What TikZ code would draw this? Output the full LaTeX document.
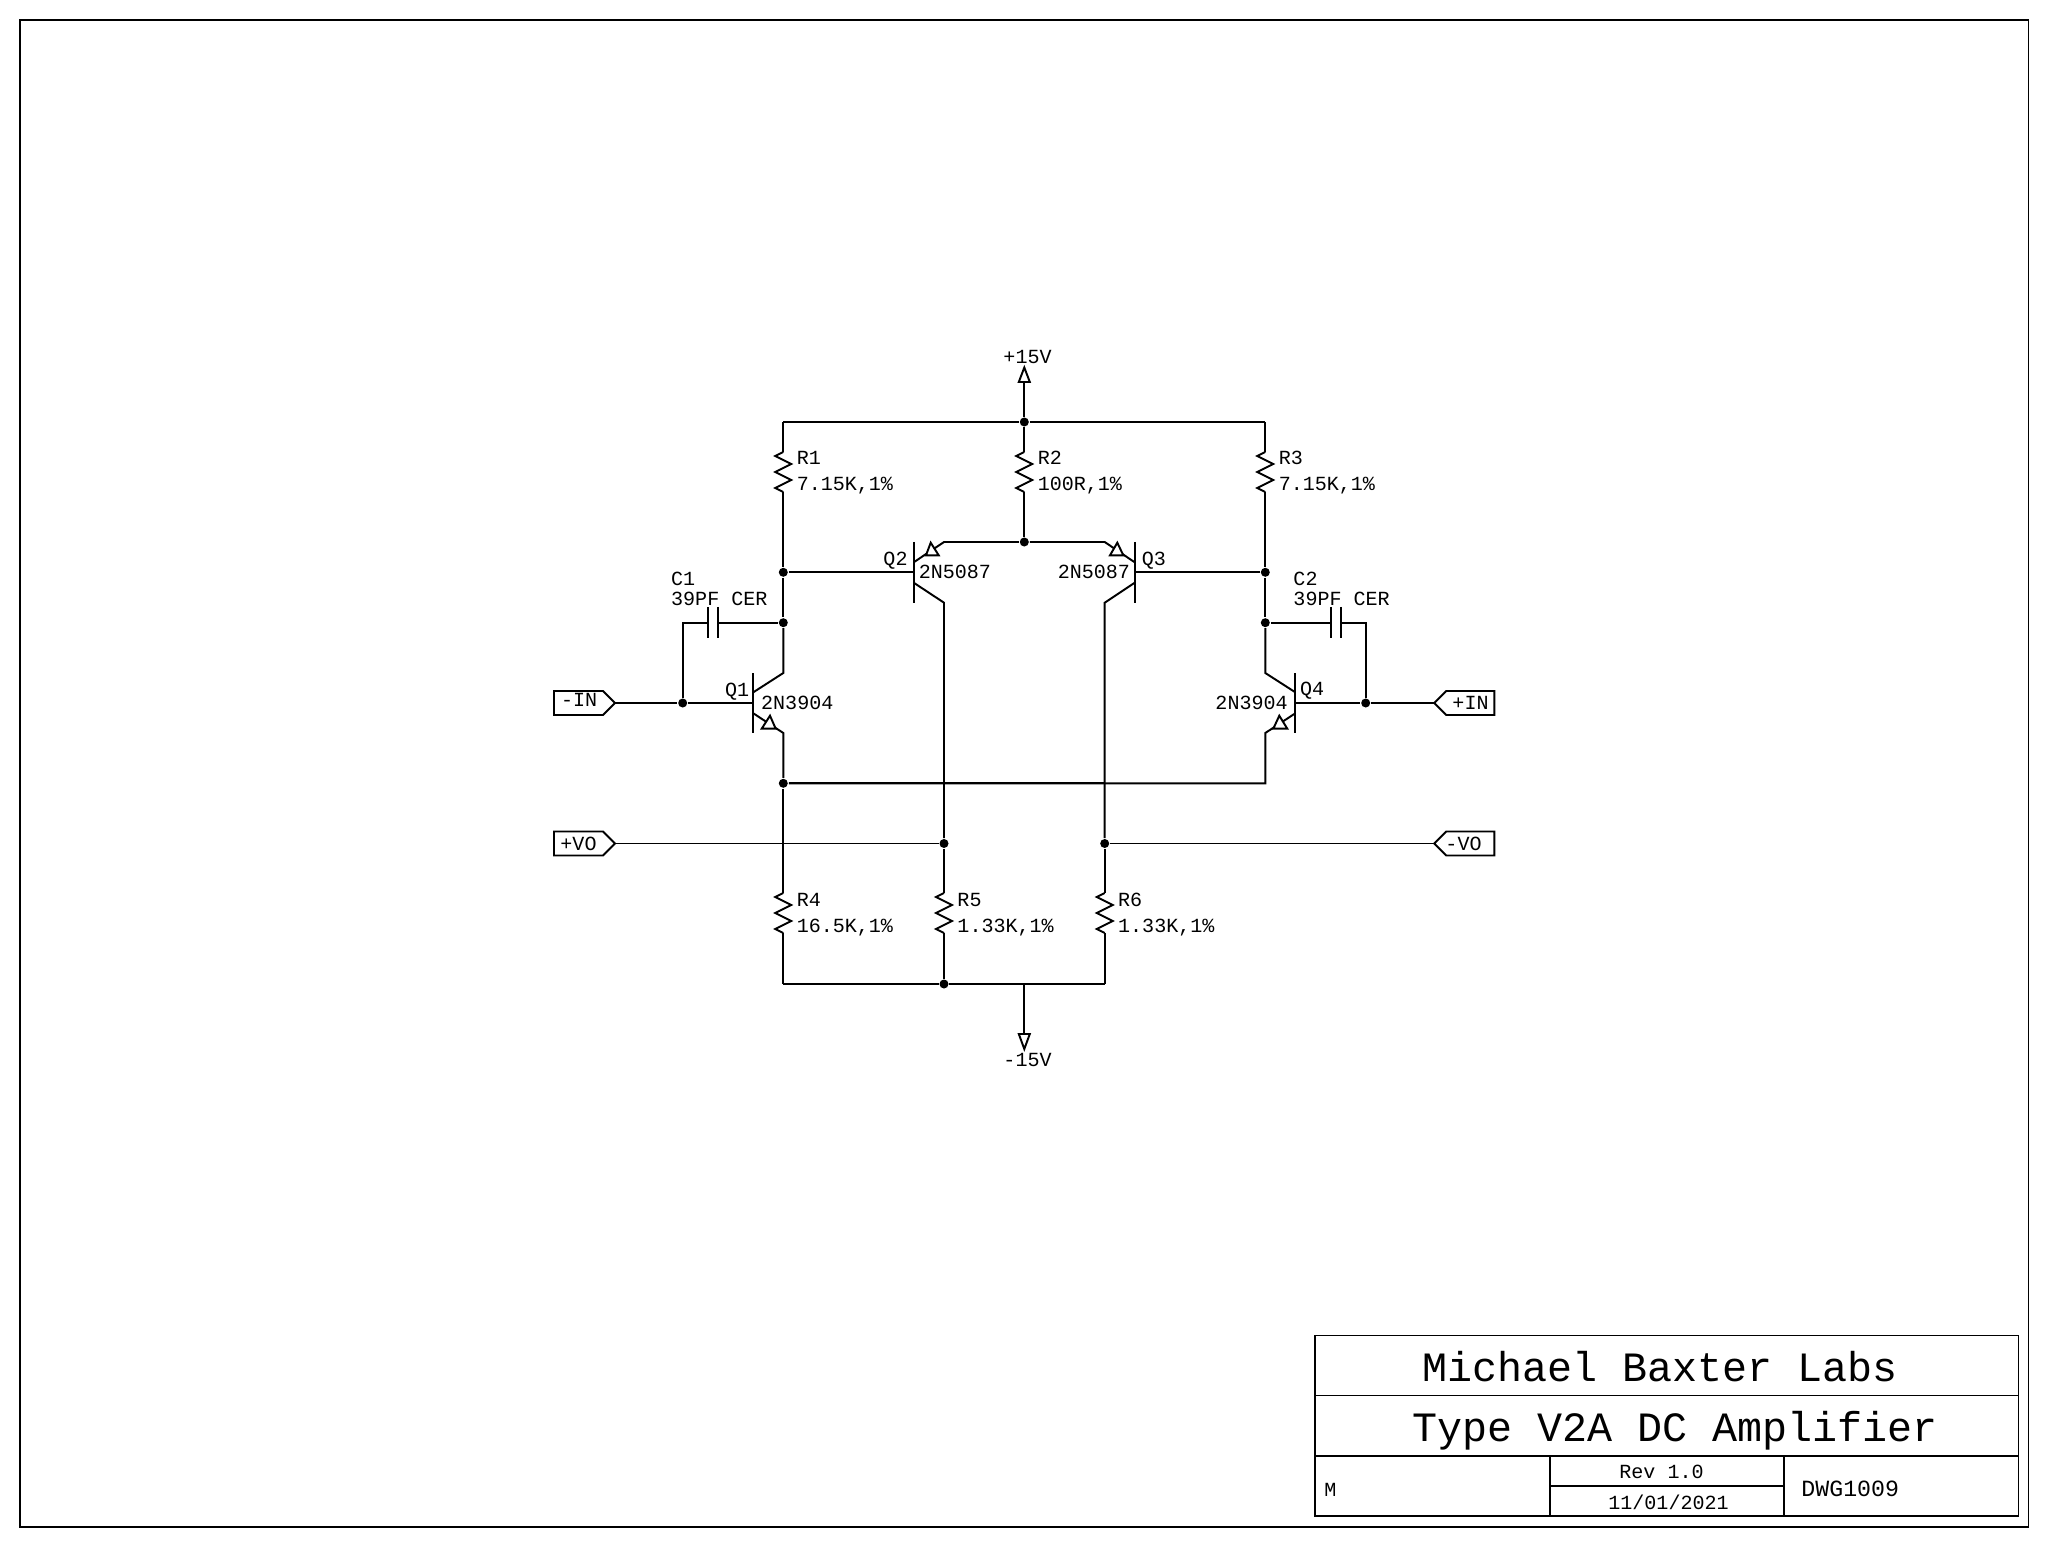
\documentclass[tikz,border=0pt]{standalone}
\usepackage{fontspec}
\setmonofont{Liberation Mono}
\usepackage{tikz}
\usetikzlibrary{positioning,calc}

\tikzset{
  wire/.style={line width=.55pt,line join=miter},
  jdot/.style={circle,fill=black,draw=none,inner sep=0,minimum size=.09cm},
  lbl/.style={inner sep=0,anchor=base west,xshift=-.015cm,font=\ttfamily\fontsize{5.7}{6}\selectfont},
  bigtitle/.style={inner sep=0,anchor=base,font=\ttfamily\fontsize{11.86}{12}\selectfont},
  arrowhd/.style={wire,fill=white}
}

\begin{document}
\begin{tikzpicture}[x=.01cm,y=-.01cm,wire]

      \useasboundingbox (0,0) rectangle (2048,1546);

      % sheet and title block
      \draw (20,20) rectangle (2028.5,1527);
      \draw (1315,1335.5) rectangle (2018.5,1516);
      \coordinate (tl1) at (1315,1395.5);
      \coordinate (tr1) at (2018.5,1395.5);
      \coordinate (tl2) at (1315,1456);
      \coordinate (tr2) at (2018.5,1456);
      \coordinate (tv1) at (1550,1456);
      \coordinate (tb1) at (1550,1516);
      \coordinate (tv2) at (1784,1456);
      \coordinate (tb2) at (1784,1516);
      \coordinate (tm1) at (1550,1486);
      \coordinate (tm2) at (1784,1486);
      \draw (tl1) -- (tr1);
      \draw (tl2) -- (tr2);
      \draw (tv1) -- (tb1);
      \draw (tv2) -- (tb2);
      \draw (tm1) -- (tm2);

      \node[bigtitle] (lab) at (1660,1381.5) {Michael Baxter Labs};
      \node[bigtitle] (ttl) at (1675,1441.5) {Type V2A DC Amplifier};
      \node[lbl] (mrk) at (1325,1496.5) {M};
      \node[lbl,anchor=base] (rev) at (1663,1478) {Rev 1.0};
      \node[lbl,anchor=base] (dat) at (1670,1509) {11/01/2021};
      \node[lbl,font=\ttfamily\fontsize{6.6}{7}\selectfont] (dwg) at (1802,1496.5) {DWG1009};

      % junctions
      \node[jdot] (jtop) at (1024.3,422) {};
      \node[jdot] (jem) at (1024.3,542) {};
      \node[jdot] (jb2) at (783.3,572.3) {};
      \node[jdot] (jb3) at (1265.3,572.3) {};
      \node[jdot] (jc1) at (783.3,622.7) {};
      \node[jdot] (jc2) at (1265.3,622.7) {};
      \node[jdot] (jin1) at (682.7,703) {};
      \node[jdot] (jin2) at (1365.7,703) {};
      \node[jdot] (jlow) at (783.3,783.3) {};
      \node[jdot] (jvo1) at (944,843.5) {};
      \node[jdot] (jvo2) at (1104.7,843.5) {};
      \node[jdot] (jbot) at (944,984) {};

      % resistors
      \foreach \n/\x/\y/\v in {R1/783.3/452/{7.15K,1\%},R2/1024.3/452/{100R,1\%},R3/1265.3/452/{7.15K,1\%},R4/783.3/893/{16.5K,1\%},R5/944/893/{1.33K,1\%},R6/1104.7/893/{1.33K,1\%}}{
        \coordinate (\n t) at (\x,\y);
        \coordinate (\n b) at (\x,\y+40);
        \draw (\n t) -- ++(-8,4) -- ++(16,8) -- ++(-16,8) -- ++(16,8) -- ++(-16,8) -- (\n b);
        \node[lbl] (\n lbl) at (\x+14,\y+13) {\n};
        \node[lbl] (\n val) at (\x+14,\y+39) {\v};
      }

      % corners of the rails
      \coordinate (topl) at (783.3,422);
      \coordinate (topr) at (1265.3,422);
      \coordinate (botl) at (783.3,984);
      \coordinate (botr) at (1104.7,984);
      \coordinate (mlow) at (1265.3,783.3);
      \draw (topl) -- (jtop) -- (topr);
      \draw (topl) -- (R1t);
      \draw (jtop) -- (R2t);
      \draw (topr) -- (R3t);
      \draw (botl) -- (jbot) -- (botr);
      \draw (R4b) -- (botl);
      \draw (R5b) -- (jbot);
      \draw (R6b) -- (botr);

      % supplies
      \coordinate (pwrb) at (1024.3,382);
      \coordinate (negt) at (1024.3,984);
      \coordinate (negb) at (1024.3,1034);
      \draw (jtop) -- (pwrb);
      \draw (negt) -- (negb);
      \draw[arrowhd] (pwrb) -- ++(-5.5,0) -- (1024.3,367.5) -- (1029.8,382) -- cycle;
      \draw[arrowhd] (negb) -- ++(-5.5,0) -- (1024.3,1049) -- (1029.8,1034) -- cycle;
      \node[lbl] (vpos) at (1004,364) {+15V};
      \node[lbl] (vneg) at (1004,1066.5) {-15V};

      % Q1
      \coordinate (q1t) at (753.3,673);
      \coordinate (q1b) at (753.3,733);
      \coordinate (q1m) at (753.3,703);
      \coordinate (q1cs) at (753.3,692.3);
      \coordinate (q1c) at (783.3,673);
      \coordinate (q1es) at (753.3,713.3);
      \coordinate (q1e) at (783.3,733);
      \draw (q1t) -- (q1b);
      \draw (q1cs) -- (q1c) -- (jc1);
      \draw (q1es) -- (q1e) -- (jlow);
      \draw[arrowhd] (761.7,728.7) -- (775.7,728.7) -- (770,715.7) -- cycle;
      \node[lbl] (q1n) at (725.7,696.5) {Q1};
      \node[lbl] (q1v) at (761.7,709) {2N3904};

      % Q4
      \coordinate (q4t) at (1295.3,673);
      \coordinate (q4b) at (1295.3,733);
      \coordinate (q4m) at (1295.3,703);
      \coordinate (q4cs) at (1295.3,692.3);
      \coordinate (q4c) at (1265.3,673);
      \coordinate (q4es) at (1295.3,713.3);
      \coordinate (q4e) at (1265.3,733);
      \draw (q4t) -- (q4b);
      \draw (q4cs) -- (q4c) -- (jc2);
      \draw (q4es) -- (q4e) -- (mlow) -- (jlow);
      \draw[arrowhd] (1273.3,728.7) -- (1287.3,728.7) -- (1279.3,715.7) -- cycle;
      \node[lbl] (q4n) at (1300.7,695.7) {Q4};
      \node[lbl] (q4v) at (1216,709) {2N3904};

      % Q2
      \coordinate (q2t) at (913.7,542);
      \coordinate (q2b) at (913.7,603);
      \coordinate (q2m) at (913.7,572.3);
      \coordinate (q2es) at (913.7,562.3);
      \coordinate (q2e) at (944,542);
      \coordinate (q2cs) at (913.7,582.7);
      \coordinate (q2c) at (944,602.7);
      \draw (q2t) -- (q2b);
      \draw (q2es) -- (q2e) -- (jem);
      \draw (q2cs) -- (q2c) -- (jvo1);
      \draw[arrowhd] (926,555.3) -- (938.7,555.3) -- (930.7,542.7) -- cycle;
      \node[lbl] (q2n) at (884,566) {Q2};
      \node[lbl] (q2v) at (919.3,578.3) {2N5087};

      % Q3
      \coordinate (q3t) at (1134.7,542);
      \coordinate (q3b) at (1134.7,603);
      \coordinate (q3m) at (1134.7,572.3);
      \coordinate (q3es) at (1134.7,562.3);
      \coordinate (q3e) at (1104.7,542);
      \coordinate (q3cs) at (1134.7,582.7);
      \coordinate (q3c) at (1104.7,602.7);
      \draw (q3t) -- (q3b);
      \draw (q3es) -- (q3e) -- (jem);
      \draw (q3cs) -- (q3c) -- (jvo2);
      \draw[arrowhd] (1110,555.3) -- (1123.3,555.3) -- (1117.3,542.7) -- cycle;
      \node[lbl] (q3n) at (1142.3,566) {Q3};
      \node[lbl] (q3v) at (1058.3,578.3) {2N5087};

      % collector legs and bases
      \draw (R1b) -- (jb2) -- (jc1);
      \draw (R3b) -- (jb3) -- (jc2);
      \draw (R2b) -- (jem);
      \draw (jb2) -- (q2m);
      \draw (q3m) -- (jb3);
      \draw (jlow) -- (R4t);
      \draw (jvo1) -- (R5t);
      \draw (jvo2) -- (R6t);

      % C1
      \coordinate (c1l) at (682.7,622.7);
      \coordinate (c1p) at (708.3,622.7);
      \coordinate (c1q) at (718.3,622.7);
      \coordinate (c1pt) at (708.3,607);
      \coordinate (c1pb) at (708.3,638);
      \coordinate (c1qt) at (718.3,607);
      \coordinate (c1qb) at (718.3,638);
      \draw (jin1) -- (c1l) -- (c1p);
      \draw (c1q) -- (jc1);
      \draw (c1pt) -- (c1pb);
      \draw (c1qt) -- (c1qb);
      \node[lbl] (c1n) at (671.7,585.7) {C1};
      \node[lbl] (c1v) at (671.7,605) {39PF CER};

      % C2
      \coordinate (c2r) at (1365.7,622.7);
      \coordinate (c2p) at (1330.7,622.7);
      \coordinate (c2q) at (1341,622.7);
      \coordinate (c2pt) at (1330.7,607);
      \coordinate (c2pb) at (1330.7,638);
      \coordinate (c2qt) at (1341,607);
      \coordinate (c2qb) at (1341,638);
      \draw (jc2) -- (c2p);
      \draw (c2q) -- (c2r) -- (jin2);
      \draw (c2pt) -- (c2pb);
      \draw (c2qt) -- (c2qb);
      \node[lbl] (c2n) at (1294,585.7) {C2};
      \node[lbl] (c2v) at (1294,605) {39PF CER};

      % off sheet flags
      \coordinate (fin1) at (615,703);
      \coordinate (fin2) at (1434.3,703);
      \coordinate (fvo1) at (615,843.5);
      \coordinate (fvo2) at (1434.3,843.5);
      \draw (fin1) -- ++(-12,-12) -- ++(-49,0) -- ++(0,24) -- ++(49,0) -- cycle;
      \draw (fvo1) -- ++(-12,-12) -- ++(-49,0) -- ++(0,24) -- ++(49,0) -- cycle;
      \draw (fin2) -- ++(12,-12) -- ++(48,0) -- ++(0,24) -- ++(-48,0) -- cycle;
      \draw (fvo2) -- ++(12,-12) -- ++(48,0) -- ++(0,24) -- ++(-48,0) -- cycle;
      \draw (fin1) -- (jin1) -- (q1m);
      \draw (q4m) -- (jin2) -- (fin2);
      \draw (fvo1) -- (jvo1);
      \draw (jvo2) -- (fvo2);
      \draw (jlow) -- (jlow -| jvo2);
      \node[lbl] (fin1t) at (561.7,706) {-IN};
      \node[lbl] (fin2t) at (1453,709) {+IN};
      \node[lbl] (fvo1t) at (561,850.5) {+VO};
      \node[lbl] (fvo2t) at (1446,850.5) {-VO};

    \end{tikzpicture}
\end{document}
